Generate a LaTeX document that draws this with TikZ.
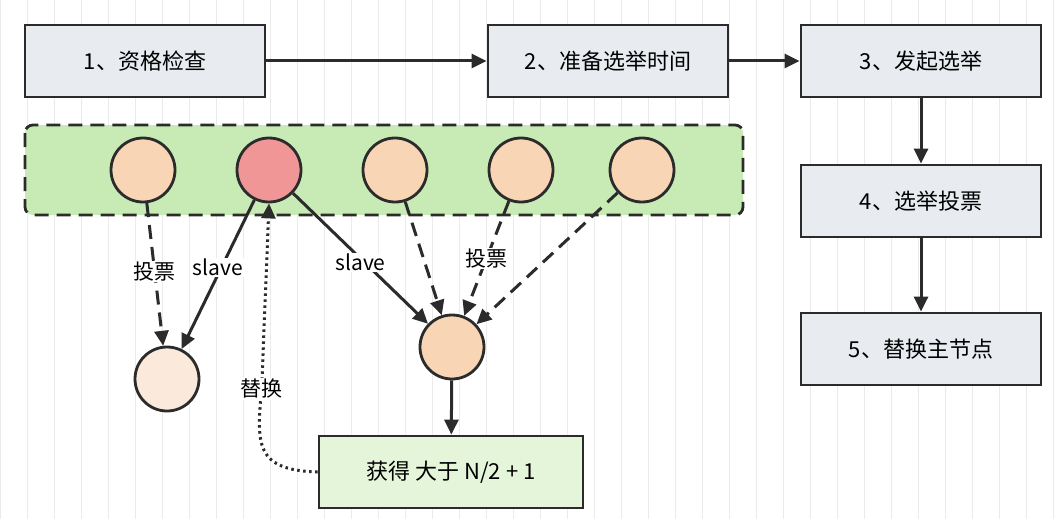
\documentclass[tikz,border=0pt]{standalone}
\usepackage{fontspec}
\setmainfont{Noto Sans CJK SC}
\usetikzlibrary{arrows.meta}
\definecolor{boxg}{HTML}{E8ECF0}
\definecolor{grn}{HTML}{C8EBB6}
\definecolor{lgrn}{HTML}{E4F5DA}
\definecolor{peach}{HTML}{F8D5B4}
\definecolor{redc}{HTML}{F09696}
\definecolor{lpeach}{HTML}{FBEADB}
\definecolor{dk}{HTML}{2B2B2B}
\begin{document}
\begin{tikzpicture}[x=1pt,y=-1pt,
 box/.style={draw=dk,line width=2.8pt,fill=boxg,minimum width=240pt,minimum height=72pt,font=\fontsize{22}{26}\selectfont},
 circ/.style={circle,draw=dk,line width=2.8pt,minimum size=64pt,inner sep=0pt},
 arr/.style={-{Triangle[length=15pt,width=14pt]},line width=3pt,draw=dk},
 lab/.style={fill=white,inner sep=1pt,font=\fontsize{21}{25}\selectfont}]
\useasboundingbox (0,0) rectangle (1063,519);
\fill[white] (0,0) rectangle (1063,519);
\draw[black!8,line width=0.6pt,step=27] (0,0) grid (1063,519);
\node[box] (b1) at (145,61) {1、资格检查};
\node[box] (b2) at (608,61) {2、准备选举时间};
\node[box] (b3) at (921,61) {3、发起选举};
\node[box] (b4) at (921,201) {4、选举投票};
\node[box] (b5) at (921,349) {5、替换主节点};
\draw[arr] (b1) -- (b2);
\draw[arr] (b2) -- (b3);
\draw[arr] (b3) -- (b4);
\draw[arr] (b4) -- (b5);
\draw[dk,line width=2.8pt,dash pattern=on 14pt off 8pt,fill=grn,rounded corners=8pt] (25,125) rectangle (743,215);
\node[circ,fill=peach] (c1) at (143,170) {};
\node[circ,fill=redc] (c2) at (269,170) {};
\node[circ,fill=peach] (c3) at (395,170) {};
\node[circ,fill=peach] (c4) at (521,170) {};
\node[circ,fill=peach] (c5) at (642,170) {};
\node[circ,fill=lpeach] (s) at (167,379) {};
\node[circ,fill=peach] (m) at (452,347) {};
\node[draw=dk,line width=2.8pt,fill=lgrn,minimum width=264pt,minimum height=72pt,font=\fontsize{22}{26}\selectfont] (g) at (451,472) {获得 大于 N/2 + 1};
\draw[arr,dash pattern=on 14pt off 8pt] (c1) -- node[lab,pos=0.48]{投票} (s);
\draw[arr] (c2) -- node[lab,pos=0.45,xshift=-4pt]{slave} (s);
\draw[arr] (c2) -- node[lab,pos=0.5,yshift=-4pt]{slave} (m);
\draw[arr,dash pattern=on 14pt off 8pt] (c3) -- (m);
\draw[arr,dash pattern=on 14pt off 8pt] (c4) -- node[lab,pos=0.5]{投票} (m);
\draw[arr,dash pattern=on 14pt off 8pt] (c5) -- (m);
\draw[arr] (m) -- (g);
\draw[arr,line width=3pt,dash pattern=on 2.5pt off 3.5pt] (g.west) .. controls (250,470) and (258,440) .. (262,380) -- node[lab,pos=-0.05]{替换} (c2.south);
\end{tikzpicture}
\end{document}
